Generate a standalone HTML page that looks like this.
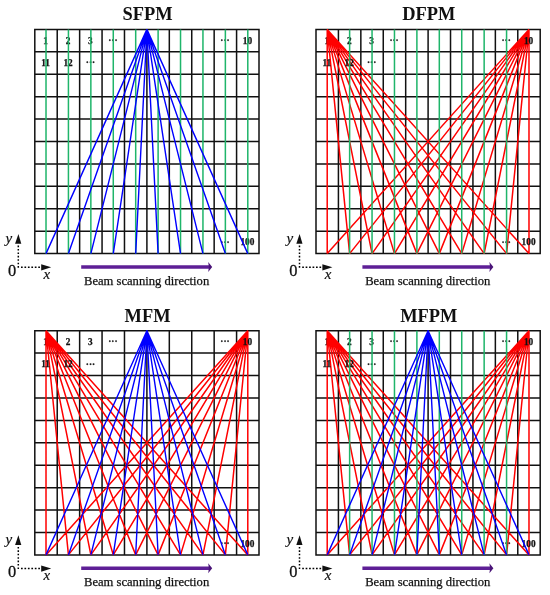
<!DOCTYPE html>
<html><head><meta charset="utf-8"><title>Scanning path methods</title>
<style>
html,body{margin:0;padding:0;background:#fff;}
body{width:550px;height:595px;overflow:hidden;}
svg{display:block;}
text{font-family:"Liberation Serif", "Times New Roman", serif;fill:#111;}
.tt{font-size:18.4px;font-weight:bold;text-anchor:middle;}
.lb{font-size:9.3px;font-weight:bold;text-anchor:middle;stroke:#111;stroke-width:0.25px;}
.zr{font-size:16.4px;stroke:#111;stroke-width:0.3px;}
.it{font-size:15px;font-style:italic;stroke:#111;stroke-width:0.2px;}
.ix{font-size:15px;font-style:italic;stroke:#111;stroke-width:0.2px;}
.bd{font-size:12.6px;stroke:#111;stroke-width:0.25px;}
</style></head><body>
<svg width="550" height="595" viewBox="0 0 550 595">
<rect width="550" height="595" fill="#fff"/>
<path d="M34.8 29.4V253.6M57.22 29.4V253.6M79.64 29.4V253.6M102.06 29.4V253.6M124.48 29.4V253.6M146.9 29.4V253.6M169.32 29.4V253.6M191.74 29.4V253.6M214.16 29.4V253.6M236.58 29.4V253.6M259 29.4V253.6M34.8 29.4H259M34.8 51.82H259M34.8 74.24H259M34.8 96.66H259M34.8 119.08H259M34.8 141.5H259M34.8 163.92H259M34.8 186.34H259M34.8 208.76H259M34.8 231.18H259M34.8 253.6H259" stroke="#111" stroke-width="1.5" fill="none" stroke-linecap="square"/>
<text x="45.61" y="43.58" class="lb">1</text>
<text x="68.03" y="43.58" class="lb">2</text>
<text x="90.45" y="43.58" class="lb">3</text>
<text x="112.87" y="43.88" class="lb">···</text>
<text x="224.97" y="43.88" class="lb">···</text>
<text x="247.39" y="43.58" class="lb">10</text>
<text x="45.61" y="66" class="lb">11</text>
<text x="68.03" y="66" class="lb">12</text>
<text x="90.45" y="66.3" class="lb">···</text>
<text x="224.97" y="245.66" class="lb">···</text>
<text x="247.39" y="245.36" class="lb">100</text>
<path d="M46.01 29.4V253.6M68.43 29.4V253.6M90.85 29.4V253.6M113.27 29.4V253.6M135.69 29.4V253.6M158.11 29.4V253.6M180.53 29.4V253.6M202.95 29.4V253.6M225.37 29.4V253.6M247.79 29.4V253.6" stroke="#1fb56a" stroke-width="1.5" fill="none"/>
<path d="M146.9 29.4L46.01 253.6M146.9 29.4L68.43 253.6M146.9 29.4L90.85 253.6M146.9 29.4L113.27 253.6M146.9 29.4L135.69 253.6M146.9 29.4L158.11 253.6M146.9 29.4L180.53 253.6M146.9 29.4L202.95 253.6M146.9 29.4L225.37 253.6M146.9 29.4L247.79 253.6" stroke="#0000ff" stroke-width="1.4" fill="none"/>
<text x="147.6" y="20.4" class="tt">SFPM</text>
<path d="M17.55 266.1h1.5v1.6h-1.5zM17.55 262.68h1.5v1.6h-1.5zM17.55 259.26h1.5v1.6h-1.5zM17.55 255.84h1.5v1.6h-1.5zM17.55 252.42h1.5v1.6h-1.5zM17.55 249h1.5v1.6h-1.5zM17.55 245.58h1.5v1.6h-1.5zM21 266.55h1.7v1.5h-1.7zM24.45 266.55h1.7v1.5h-1.7zM27.9 266.55h1.7v1.5h-1.7zM31.35 266.55h1.7v1.5h-1.7zM34.8 266.55h1.7v1.5h-1.7zM38.25 266.55h1.7v1.5h-1.7z" fill="#000"/>
<path d="M18.4 234L15.1 243.8L21.3 243.8Z" fill="#111"/>
<path d="M51.2 267.3L41.2 264.2L41.2 270.5Z" fill="#111"/>
<text x="8.1" y="276" class="zr">0</text>
<text x="5.4" y="242.5" class="it">y</text>
<text x="43.6" y="278.9" class="ix">x</text>
<path d="M81.2 267H209.5" stroke="#5e1f96" stroke-width="3.4" fill="none"/>
<path d="M212.2 267L208.2 262L208.9 267L208.2 272Z" fill="#4a1478"/>
<text x="84" y="284.9" class="bd">Beam scanning direction</text>
<path d="M316 29.4V253.6M338.42 29.4V253.6M360.84 29.4V253.6M383.26 29.4V253.6M405.68 29.4V253.6M428.1 29.4V253.6M450.52 29.4V253.6M472.94 29.4V253.6M495.36 29.4V253.6M517.78 29.4V253.6M540.2 29.4V253.6M316 29.4H540.2M316 51.82H540.2M316 74.24H540.2M316 96.66H540.2M316 119.08H540.2M316 141.5H540.2M316 163.92H540.2M316 186.34H540.2M316 208.76H540.2M316 231.18H540.2M316 253.6H540.2" stroke="#111" stroke-width="1.5" fill="none" stroke-linecap="square"/>
<text x="326.81" y="43.58" class="lb">1</text>
<path d="M327.21 29.4L327.21 253.6M327.21 29.4L349.63 253.6M327.21 29.4L372.05 253.6M327.21 29.4L394.47 253.6M327.21 29.4L416.89 253.6M327.21 29.4L439.31 253.6M327.21 29.4L461.73 253.6M327.21 29.4L484.15 253.6M327.21 29.4L506.57 253.6M327.21 29.4L528.99 253.6M528.99 29.4L327.21 253.6M528.99 29.4L349.63 253.6M528.99 29.4L372.05 253.6M528.99 29.4L394.47 253.6M528.99 29.4L416.89 253.6M528.99 29.4L439.31 253.6M528.99 29.4L461.73 253.6M528.99 29.4L484.15 253.6M528.99 29.4L506.57 253.6M528.99 29.4L528.99 253.6" stroke="#ff0000" stroke-width="1.5" fill="none"/>
<text x="349.23" y="43.58" class="lb">2</text>
<text x="371.65" y="43.58" class="lb">3</text>
<text x="394.07" y="43.88" class="lb">···</text>
<text x="506.17" y="43.88" class="lb">···</text>
<text x="528.59" y="43.58" class="lb">10</text>
<text x="326.81" y="66" class="lb">11</text>
<text x="349.23" y="66" class="lb">12</text>
<text x="371.65" y="66.3" class="lb">···</text>
<text x="506.17" y="245.66" class="lb">···</text>
<text x="528.59" y="245.36" class="lb">100</text>
<path d="M349.63 29.4V253.6M372.05 29.4V253.6M394.47 29.4V253.6M416.89 29.4V253.6M439.31 29.4V253.6M461.73 29.4V253.6M484.15 29.4V253.6M506.57 29.4V253.6" stroke="#1fb56a" stroke-width="1.5" fill="none"/>
<text x="428.8" y="20.4" class="tt">DFPM</text>
<path d="M298.75 266.1h1.5v1.6h-1.5zM298.75 262.68h1.5v1.6h-1.5zM298.75 259.26h1.5v1.6h-1.5zM298.75 255.84h1.5v1.6h-1.5zM298.75 252.42h1.5v1.6h-1.5zM298.75 249h1.5v1.6h-1.5zM298.75 245.58h1.5v1.6h-1.5zM302.2 266.55h1.7v1.5h-1.7zM305.65 266.55h1.7v1.5h-1.7zM309.1 266.55h1.7v1.5h-1.7zM312.55 266.55h1.7v1.5h-1.7zM316 266.55h1.7v1.5h-1.7zM319.45 266.55h1.7v1.5h-1.7z" fill="#000"/>
<path d="M299.6 234L296.3 243.8L302.5 243.8Z" fill="#111"/>
<path d="M332.4 267.3L322.4 264.2L322.4 270.5Z" fill="#111"/>
<text x="289.3" y="276" class="zr">0</text>
<text x="286.6" y="242.5" class="it">y</text>
<text x="324.8" y="278.9" class="ix">x</text>
<path d="M362.4 267H490.7" stroke="#5e1f96" stroke-width="3.4" fill="none"/>
<path d="M493.4 267L489.4 262L490.1 267L489.4 272Z" fill="#4a1478"/>
<text x="365.2" y="284.9" class="bd">Beam scanning direction</text>
<path d="M34.8 330.7V554.9M57.22 330.7V554.9M79.64 330.7V554.9M102.06 330.7V554.9M124.48 330.7V554.9M146.9 330.7V554.9M169.32 330.7V554.9M191.74 330.7V554.9M214.16 330.7V554.9M236.58 330.7V554.9M259 330.7V554.9M34.8 330.7H259M34.8 353.12H259M34.8 375.54H259M34.8 397.96H259M34.8 420.38H259M34.8 442.8H259M34.8 465.22H259M34.8 487.64H259M34.8 510.06H259M34.8 532.48H259M34.8 554.9H259" stroke="#111" stroke-width="1.5" fill="none" stroke-linecap="square"/>
<text x="45.61" y="344.88" class="lb">1</text>
<path d="M46.01 330.7L46.01 554.9M46.01 330.7L68.43 554.9M46.01 330.7L90.85 554.9M46.01 330.7L113.27 554.9M46.01 330.7L135.69 554.9M46.01 330.7L158.11 554.9M46.01 330.7L180.53 554.9M46.01 330.7L202.95 554.9M46.01 330.7L225.37 554.9M46.01 330.7L247.79 554.9M247.79 330.7L46.01 554.9M247.79 330.7L68.43 554.9M247.79 330.7L90.85 554.9M247.79 330.7L113.27 554.9M247.79 330.7L135.69 554.9M247.79 330.7L158.11 554.9M247.79 330.7L180.53 554.9M247.79 330.7L202.95 554.9M247.79 330.7L225.37 554.9M247.79 330.7L247.79 554.9" stroke="#ff0000" stroke-width="1.5" fill="none"/>
<text x="68.03" y="344.88" class="lb">2</text>
<text x="90.45" y="344.88" class="lb">3</text>
<text x="112.87" y="345.18" class="lb">···</text>
<text x="224.97" y="345.18" class="lb">···</text>
<text x="247.39" y="344.88" class="lb">10</text>
<text x="45.61" y="367.3" class="lb">11</text>
<text x="68.03" y="367.3" class="lb">12</text>
<text x="90.45" y="367.6" class="lb">···</text>
<text x="224.97" y="546.96" class="lb">···</text>
<text x="247.39" y="546.66" class="lb">100</text>
<path d="M146.9 330.7L46.01 554.9M146.9 330.7L68.43 554.9M146.9 330.7L90.85 554.9M146.9 330.7L113.27 554.9M146.9 330.7L135.69 554.9M146.9 330.7L158.11 554.9M146.9 330.7L180.53 554.9M146.9 330.7L202.95 554.9M146.9 330.7L225.37 554.9M146.9 330.7L247.79 554.9" stroke="#0000ff" stroke-width="1.4" fill="none"/>
<text x="147.6" y="321.7" class="tt">MFM</text>
<path d="M17.55 567.4h1.5v1.6h-1.5zM17.55 563.98h1.5v1.6h-1.5zM17.55 560.56h1.5v1.6h-1.5zM17.55 557.14h1.5v1.6h-1.5zM17.55 553.72h1.5v1.6h-1.5zM17.55 550.3h1.5v1.6h-1.5zM17.55 546.88h1.5v1.6h-1.5zM21 567.85h1.7v1.5h-1.7zM24.45 567.85h1.7v1.5h-1.7zM27.9 567.85h1.7v1.5h-1.7zM31.35 567.85h1.7v1.5h-1.7zM34.8 567.85h1.7v1.5h-1.7zM38.25 567.85h1.7v1.5h-1.7z" fill="#000"/>
<path d="M18.4 535.3L15.1 545.1L21.3 545.1Z" fill="#111"/>
<path d="M51.2 568.6L41.2 565.5L41.2 571.8Z" fill="#111"/>
<text x="8.1" y="577.3" class="zr">0</text>
<text x="5.4" y="543.8" class="it">y</text>
<text x="43.6" y="580.2" class="ix">x</text>
<path d="M81.2 568.3H209.5" stroke="#5e1f96" stroke-width="3.4" fill="none"/>
<path d="M212.2 568.3L208.2 563.3L208.9 568.3L208.2 573.3Z" fill="#4a1478"/>
<text x="84" y="586.2" class="bd">Beam scanning direction</text>
<path d="M316 330.7V554.9M338.42 330.7V554.9M360.84 330.7V554.9M383.26 330.7V554.9M405.68 330.7V554.9M428.1 330.7V554.9M450.52 330.7V554.9M472.94 330.7V554.9M495.36 330.7V554.9M517.78 330.7V554.9M540.2 330.7V554.9M316 330.7H540.2M316 353.12H540.2M316 375.54H540.2M316 397.96H540.2M316 420.38H540.2M316 442.8H540.2M316 465.22H540.2M316 487.64H540.2M316 510.06H540.2M316 532.48H540.2M316 554.9H540.2" stroke="#111" stroke-width="1.5" fill="none" stroke-linecap="square"/>
<text x="326.81" y="344.88" class="lb">1</text>
<path d="M327.21 330.7L327.21 554.9M327.21 330.7L349.63 554.9M327.21 330.7L372.05 554.9M327.21 330.7L394.47 554.9M327.21 330.7L416.89 554.9M327.21 330.7L439.31 554.9M327.21 330.7L461.73 554.9M327.21 330.7L484.15 554.9M327.21 330.7L506.57 554.9M327.21 330.7L528.99 554.9M528.99 330.7L327.21 554.9M528.99 330.7L349.63 554.9M528.99 330.7L372.05 554.9M528.99 330.7L394.47 554.9M528.99 330.7L416.89 554.9M528.99 330.7L439.31 554.9M528.99 330.7L461.73 554.9M528.99 330.7L484.15 554.9M528.99 330.7L506.57 554.9M528.99 330.7L528.99 554.9" stroke="#ff0000" stroke-width="1.5" fill="none"/>
<text x="349.23" y="344.88" class="lb">2</text>
<text x="371.65" y="344.88" class="lb">3</text>
<text x="394.07" y="345.18" class="lb">···</text>
<text x="506.17" y="345.18" class="lb">···</text>
<text x="528.59" y="344.88" class="lb">10</text>
<text x="326.81" y="367.3" class="lb">11</text>
<text x="349.23" y="367.3" class="lb">12</text>
<text x="371.65" y="367.6" class="lb">···</text>
<text x="506.17" y="546.96" class="lb">···</text>
<text x="528.59" y="546.66" class="lb">100</text>
<path d="M349.63 330.7V554.9M372.05 330.7V554.9M394.47 330.7V554.9M416.89 330.7V554.9M439.31 330.7V554.9M461.73 330.7V554.9M484.15 330.7V554.9M506.57 330.7V554.9" stroke="#1fb56a" stroke-width="1.5" fill="none"/>
<path d="M428.1 330.7L327.21 554.9M428.1 330.7L349.63 554.9M428.1 330.7L372.05 554.9M428.1 330.7L394.47 554.9M428.1 330.7L416.89 554.9M428.1 330.7L439.31 554.9M428.1 330.7L461.73 554.9M428.1 330.7L484.15 554.9M428.1 330.7L506.57 554.9M428.1 330.7L528.99 554.9" stroke="#0000ff" stroke-width="1.4" fill="none"/>
<text x="428.8" y="321.7" class="tt">MFPM</text>
<path d="M298.75 567.4h1.5v1.6h-1.5zM298.75 563.98h1.5v1.6h-1.5zM298.75 560.56h1.5v1.6h-1.5zM298.75 557.14h1.5v1.6h-1.5zM298.75 553.72h1.5v1.6h-1.5zM298.75 550.3h1.5v1.6h-1.5zM298.75 546.88h1.5v1.6h-1.5zM302.2 567.85h1.7v1.5h-1.7zM305.65 567.85h1.7v1.5h-1.7zM309.1 567.85h1.7v1.5h-1.7zM312.55 567.85h1.7v1.5h-1.7zM316 567.85h1.7v1.5h-1.7zM319.45 567.85h1.7v1.5h-1.7z" fill="#000"/>
<path d="M299.6 535.3L296.3 545.1L302.5 545.1Z" fill="#111"/>
<path d="M332.4 568.6L322.4 565.5L322.4 571.8Z" fill="#111"/>
<text x="289.3" y="577.3" class="zr">0</text>
<text x="286.6" y="543.8" class="it">y</text>
<text x="324.8" y="580.2" class="ix">x</text>
<path d="M362.4 568.3H490.7" stroke="#5e1f96" stroke-width="3.4" fill="none"/>
<path d="M493.4 568.3L489.4 563.3L490.1 568.3L489.4 573.3Z" fill="#4a1478"/>
<text x="365.2" y="586.2" class="bd">Beam scanning direction</text>
</svg>
</body></html>
